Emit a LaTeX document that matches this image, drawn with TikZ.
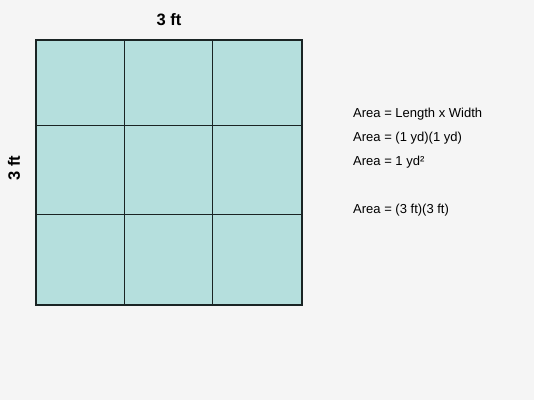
\documentclass[tikz,border=0pt]{standalone}
\usepackage{fontspec}
\setmainfont{Liberation Sans}
\definecolor{bg}{HTML}{F5F5F5}
\definecolor{tile}{HTML}{B5DFDD}
\definecolor{edge}{HTML}{1A2424}
\tikzset{
  eq/.style={anchor=base west, inner sep=0pt, font=\fontsize{13}{15}\selectfont},
  dim/.style={inner sep=0pt, font=\fontsize{16.5}{19}\selectfont\bfseries},
}
\begin{document}
\begin{tikzpicture}[x=1pt,y=-1pt]
\useasboundingbox (0,0) rectangle (534,400);
\fill[bg] (0,0) rectangle (534,400);
\node[fill=tile, minimum width=266pt, minimum height=265pt, inner sep=0pt, outer sep=0pt, anchor=north west] (sq) at (36,40) {};
\foreach \x in {124.5,212.5} \draw[edge, line width=1pt] (\x,40) -- (\x,305);
\foreach \y in {125.5,214.5} \draw[edge, line width=1pt] (36,\y) -- (302,\y);
\draw[edge, line width=1.8pt] (sq.north west) rectangle (sq.south east);
\node[dim] (top) at (169,20) {3 ft};
\node[dim, rotate=90] (left) at (14,168) {3 ft};
\node[eq] (e1) at (353,117) {Area = Length x Width};
\node[eq] (e2) at (353,141) {Area = (1 yd)(1 yd)};
\node[eq] (e3) at (353,165) {Area = 1 yd²};
\node[eq] (e4) at (353,213) {Area = (3 ft)(3 ft)};
\end{tikzpicture}
\end{document}
